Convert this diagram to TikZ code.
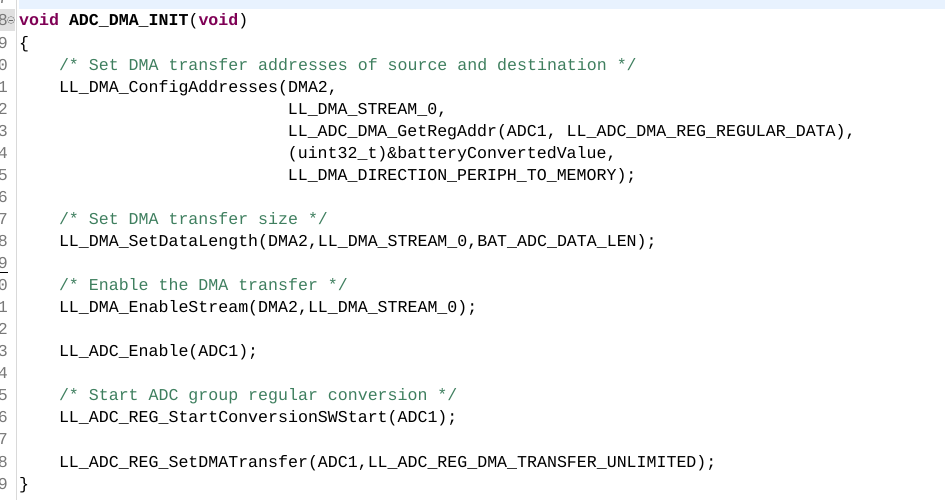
\documentclass[tikz,border=0pt]{standalone}
\usepackage{fontspec}
\setmonofont{Liberation Mono}
\definecolor{kw}{HTML}{7F0055}
\definecolor{cm}{HTML}{3F7F5F}
\definecolor{ln}{HTML}{787878}
\definecolor{hl}{HTML}{E8F2FE}
\tikzset{code/.style={anchor=base west,inner sep=0pt,font=\ttfamily\fontsize{16.6pt}{18pt}\selectfont},
lnum/.style={anchor=base east,inner sep=0pt,text=ln,font=\ttfamily\fontsize{16.6pt}{18pt}\selectfont}}
\newcommand{\cl}[4]{\node[code] (#1) at ({19+#3*9.95pt},{-(26+22.05*#2)*1pt}) {#4};}
\begin{document}
\begin{tikzpicture}[x=1pt,y=1pt]
\useasboundingbox (0,0) rectangle (945,-500);
\begin{scope}
\clip (0,0) rectangle (945,-500);
\fill[hl] (19,0) rectangle (945,-9);
\fill[black!12] (0,-9) rectangle (15,-31);
\draw[black!15] (16,0) -- (16,-500);
\foreach \d [count=\i from 0] in {8,9,0,1,2,3,4,5,6,7,8,9,0,1,2,3,4,5,6,7,8,9}
  \node[lnum] (n\i) at (8,{-(26+22.05*\i)}) {\d};
\node[lnum] (n7) at (8,{-(26-22.05)}) {7};
\draw[black,line width=0.8pt] (0,-272) -- (8,-272);
\node[draw=black!50,circle,inner sep=0pt,minimum size=7pt,line width=0.4pt] (fold) at (11,-20) {};
\draw[black!60,line width=0.5pt] (9,-20) -- (13,-20);
\end{scope}
\cl{l0}{0}{0}{\textcolor{kw}{\bfseries void} \textbf{ADC\_DMA\_INIT}(\textcolor{kw}{\bfseries void})}
\cl{l1}{1}{0}{\{}
\cl{l2}{2}{4}{\textcolor{cm}{/* Set DMA transfer addresses of source and destination */}}
\cl{l3}{3}{4}{LL\_DMA\_ConfigAddresses(DMA2,}
\cl{l4}{4}{27}{LL\_DMA\_STREAM\_0,}
\cl{l5}{5}{27}{LL\_ADC\_DMA\_GetRegAddr(ADC1, LL\_ADC\_DMA\_REG\_REGULAR\_DATA),}
\cl{l6}{6}{27}{(uint32\_t)\&batteryConvertedValue,}
\cl{l7}{7}{27}{LL\_DMA\_DIRECTION\_PERIPH\_TO\_MEMORY);}
\cl{l9}{9}{4}{\textcolor{cm}{/* Set DMA transfer size */}}
\cl{l10}{10}{4}{LL\_DMA\_SetDataLength(DMA2,LL\_DMA\_STREAM\_0,BAT\_ADC\_DATA\_LEN);}
\cl{l12}{12}{4}{\textcolor{cm}{/* Enable the DMA transfer */}}
\cl{l13}{13}{4}{LL\_DMA\_EnableStream(DMA2,LL\_DMA\_STREAM\_0);}
\cl{l15}{15}{4}{LL\_ADC\_Enable(ADC1);}
\cl{l17}{17}{4}{\textcolor{cm}{/* Start ADC group regular conversion */}}
\cl{l18}{18}{4}{LL\_ADC\_REG\_StartConversionSWStart(ADC1);}
\cl{l20}{20}{4}{LL\_ADC\_REG\_SetDMATransfer(ADC1,LL\_ADC\_REG\_DMA\_TRANSFER\_UNLIMITED);}
\cl{l21}{21}{0}{\}}
\end{tikzpicture}
\end{document}
